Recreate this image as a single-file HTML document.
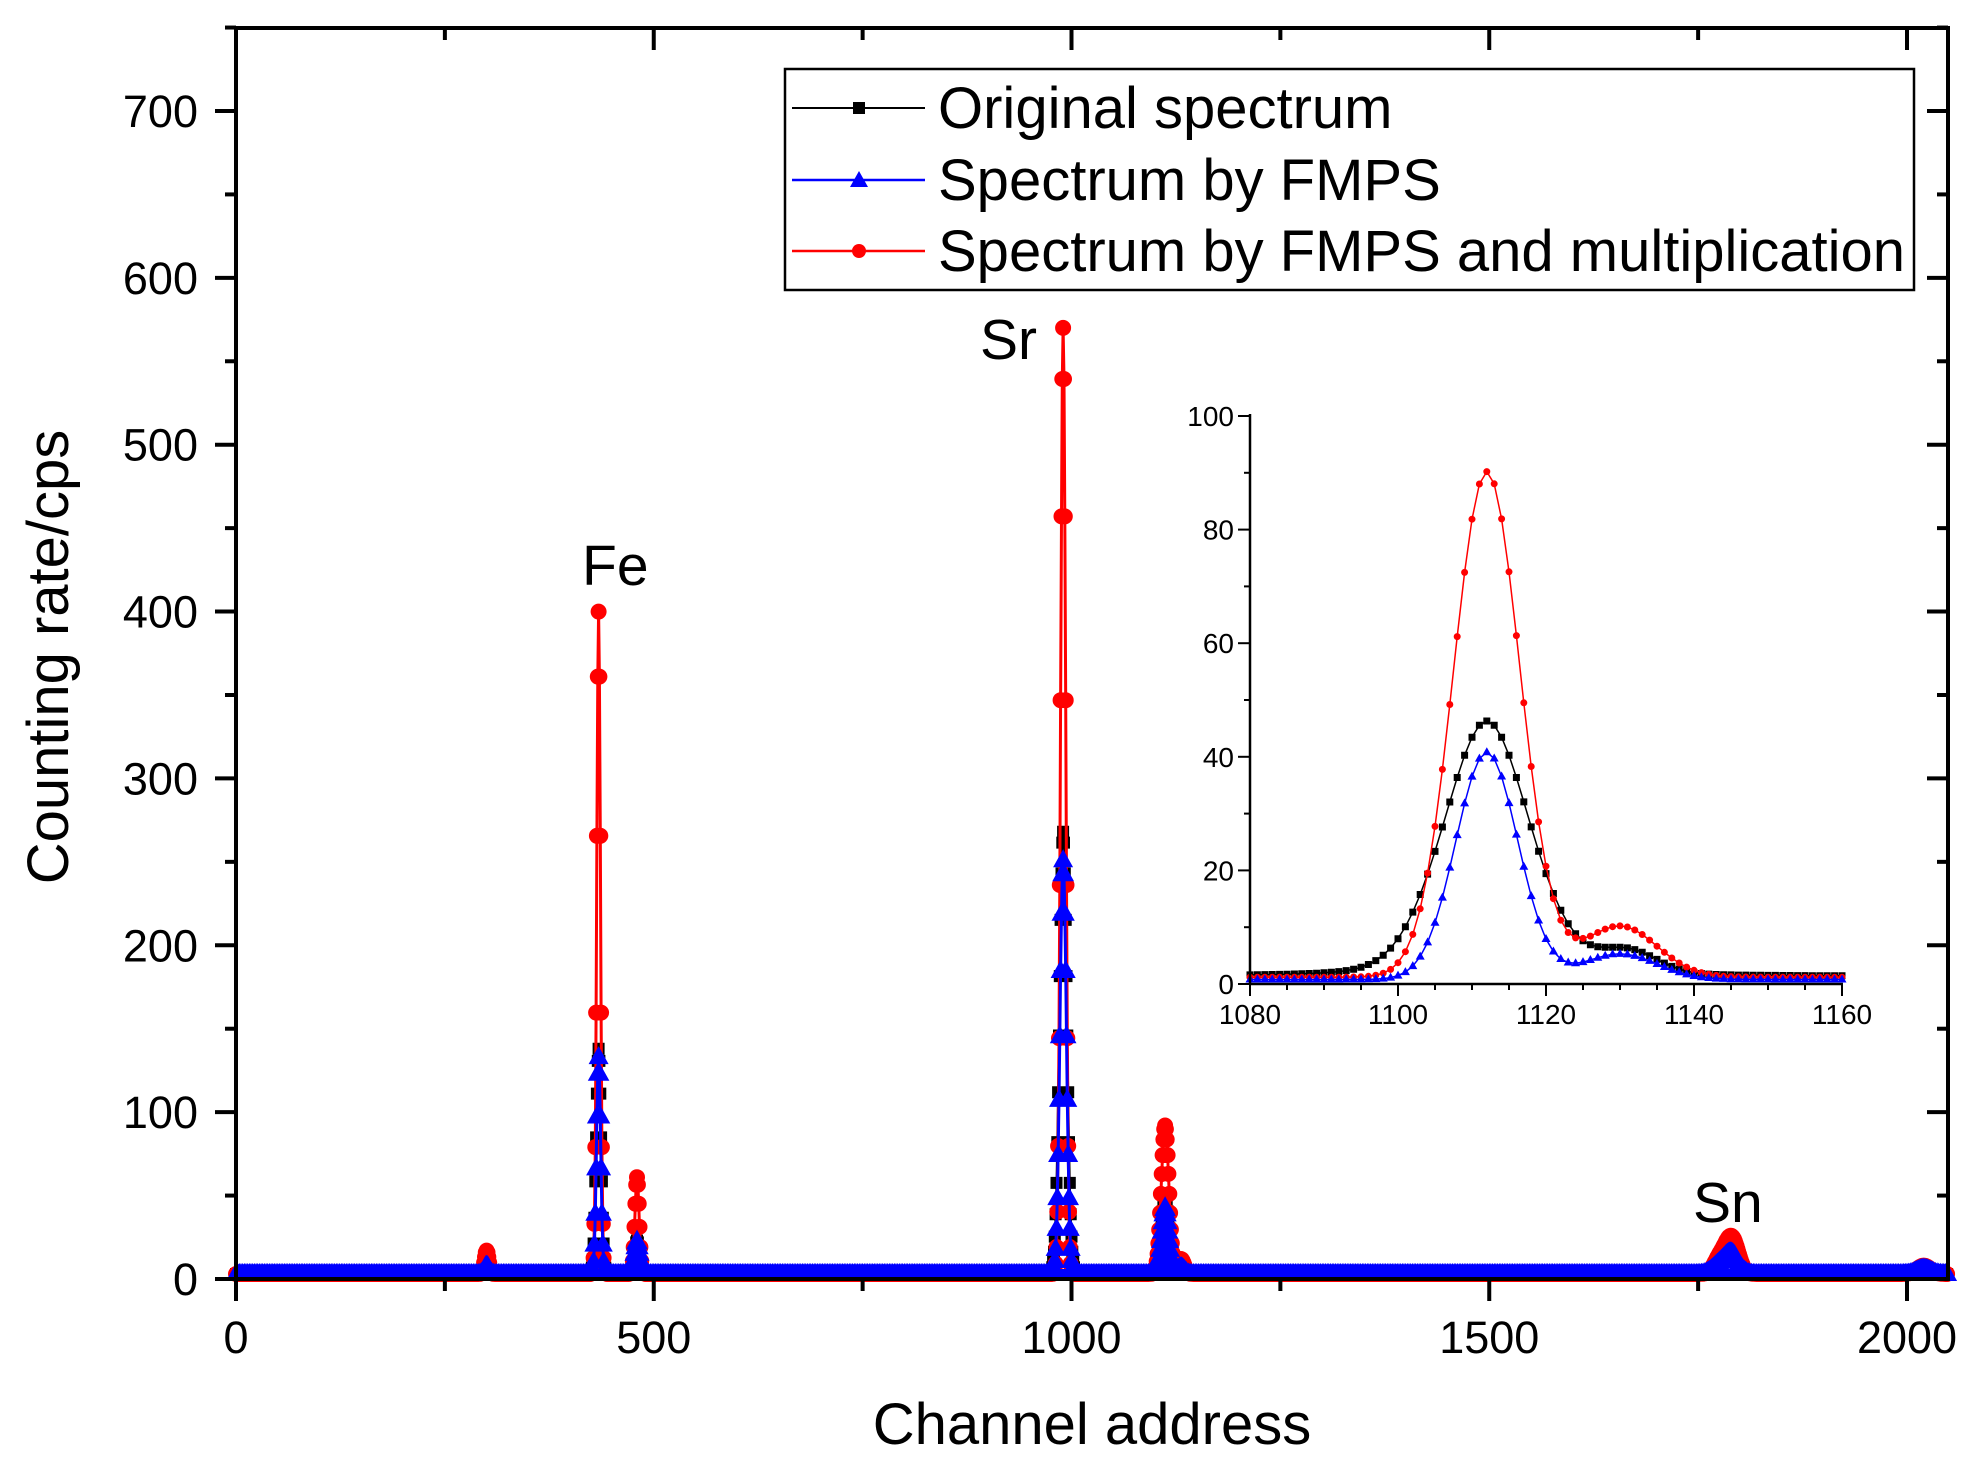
<!DOCTYPE html>
<html><head><meta charset="utf-8"><style>
html,body{margin:0;padding:0;background:#fff;}
svg{display:block;font-family:"Liberation Sans",Arial,sans-serif;}
</style></head><body>
<svg id="s" width="1978" height="1474" viewBox="0 0 1978 1474" xmlns="http://www.w3.org/2000/svg">
<rect width="1978" height="1474" fill="#fff"/>
<g id="data"></g>
<g id="inset"></g>
<g id="axes" stroke="#000" fill="none"></g>
<!-- legend -->
<rect x="785" y="69" width="1129" height="221" fill="#fff" stroke="#000" stroke-width="2.5"/>
<line x1="792" y1="108" x2="925" y2="108" stroke="#000" stroke-width="2"/>
<rect x="853" y="102" width="12" height="12" fill="#000"/>
<line x1="792" y1="180" x2="925" y2="180" stroke="#00f" stroke-width="2.5"/>
<polygon points="859,171 850,187 868,187" fill="#00f"/>
<line x1="792" y1="251" x2="925" y2="251" stroke="#f00" stroke-width="2.5"/>
<circle cx="859" cy="251" r="7" fill="#f00"/>
<g font-size="58" fill="#000">
<text x="938" y="128">Original spectrum</text>
<text x="938" y="200">Spectrum by FMPS</text>
<text x="938" y="271">Spectrum by FMPS and multiplication</text>
</g>
<g font-size="57" fill="#000">
<text x="582" y="585">Fe</text>
<text x="980" y="359">Sr</text>
<text x="1693" y="1222">Sn</text>
</g>
<g font-size="45" fill="#000" text-anchor="end" id="ylab"></g>
<g font-size="45" fill="#000" text-anchor="middle" id="xlab"></g>
<text x="1092" y="1444" font-size="58" text-anchor="middle">Channel address</text>
<text transform="translate(68,657) rotate(-90)" font-size="58" text-anchor="middle">Counting rate/cps</text>
</svg>
<script>
(function(){
var NS="http://www.w3.org/2000/svg";
function el(p,t,a){var e=document.createElementNS(NS,t);for(var k in a)e.setAttribute(k,a[k]);p.appendChild(e);return e;}
var X=function(c){return 236+c*0.8355;}, Y=function(v){return 1279-v*1.6686;};
function g(x,m,s){return Math.exp(-0.5*(x-m)*(x-m)/(s*s));}
function spec(c,k){ // k:0 black,1 blue,2 red
 var b=3;
 var P=[[300,[5,5,14],[3,3,2.5]],[434,[135,130,397],[3,2.5,2.2]],[480,[20,20,58],[3,3,2.5]],
 [990,[265,248,567],[4.5,3.8,3]],[1112,[45,40,89],[5,4.2,4.5]],[1131,[6,4,9],[5,4,4]],
 [1790,[10,12,22],[9,8,8]],[1775,[4,5,8],[8,8,7]],[2020,[2,3,5],[8,8,8]]];
 var v=b;for(var i=0;i<P.length;i++)v+=P[i][1][k]*g(c,P[i][0],P[i][2][k]);return v;}
var D=document.getElementById("data");
var cols=["#000","#00f","#f00"];
[0,2,1].forEach(function(k){
 var pts=[];for(var c=0;c<=2048;c++){pts.push(X(c).toFixed(1)+","+Y(spec(c,k)).toFixed(1));}
 el(D,"polyline",{points:pts.join(" "),fill:"none",stroke:cols[k],"stroke-width":k==0?2:3});
 var path="";
 for(var c=0;c<=2048;c++){var v=spec(c,k);var x=X(c),y=Y(v);
  if(v<4&&c%2)continue;
  if(k==0)path+="M"+(x-6).toFixed(1)+" "+(y-6).toFixed(1)+"h12v12h-12z";
  else if(k==1)path+="M"+x.toFixed(1)+" "+(y-11).toFixed(1)+"l10 18h-20z";
  else path+="M"+(x-8).toFixed(1)+" "+y.toFixed(1)+"a8 8 0 1 0 16 0a8 8 0 1 0 -16 0z";}
 el(D,"path",{d:path,fill:cols[k]});
});
el(D,"rect",{x:236,y:1269,width:1712,height:12,fill:"#00f"});
// inset
var I=document.getElementById("inset");
var IX=function(c){return 1250+(c-1080)*(592/80);}, IY=function(v){return 984-v*5.68;};
function ins(c,k){
 var d=c-1112,v;
 if(k==0){v=1.3+36*g(c,1112,6)+9/(1+(d/6)*(d/6))+4*g(c,1131,4);}
 else if(k==1){v=0.8+40*g(c,1112,4.2)+4.5*g(c,1130,5);}
 else {v=1.2+89*g(c,1112,4.5)+9*g(c,1130,5);}
 return v;}
[0,2,1].forEach(function(k){
 var pts=[],path="";
 for(var c=1080;c<=1160;c++){var x=IX(c),y=IY(ins(c,k));pts.push(x.toFixed(1)+","+y.toFixed(1));
  if(k==0)path+="M"+(x-3.5).toFixed(1)+" "+(y-3.5).toFixed(1)+"h7v7h-7z";
  else if(k==1)path+="M"+x.toFixed(1)+" "+(y-5).toFixed(1)+"l4.5 8h-9z";
  else path+="M"+(x-3.5).toFixed(1)+" "+y.toFixed(1)+"a3.5 3.5 0 1 0 7 0a3.5 3.5 0 1 0 -7 0z";}
 el(I,"polyline",{points:pts.join(" "),fill:"none",stroke:cols[k],"stroke-width":1.5});
 el(I,"path",{d:path,fill:cols[k]});
});
el(I,"line",{x1:1250,y1:414,x2:1250,y2:985,stroke:"#000","stroke-width":2.5});
el(I,"line",{x1:1249,y1:984,x2:1843,y2:984,stroke:"#000","stroke-width":2.5});
for(var v=0;v<=100;v+=10){var y=IY(v);el(I,"line",{x1:v%20?1244:1238,y1:y,x2:1250,y2:y,stroke:"#000","stroke-width":2});
 if(v%20==0){var t=el(I,"text",{x:1234,y:y+10,"font-size":28,"text-anchor":"end"});t.textContent=v;}}
for(var c=1080;c<=1160;c+=5){var x=IX(c);el(I,"line",{x1:x,y1:984,x2:x,y2:c%20?990:996,stroke:"#000","stroke-width":2});
 if(c%20==0){var t=el(I,"text",{x:x,y:1024,"font-size":28,"text-anchor":"middle"});t.textContent=c;}}
// axes
var A=document.getElementById("axes");
el(A,"rect",{x:236,y:28,width:1712,height:1251,"stroke-width":4});
for(var v=0;v<=750;v+=50){var y=Y(v);var L=v%100?11:21;
 el(A,"line",{x1:236-L,y1:y,x2:236,y2:y,"stroke-width":4});
 el(A,"line",{x1:1948,y1:y,x2:1948-L,y2:y,"stroke-width":4});
 if(v%100==0){var t=el(document.getElementById("ylab"),"text",{x:198,y:y+16});t.textContent=v;}}
for(var c=0;c<=2050;c+=250){var x=X(c);var L=c%500?12:22;
 el(A,"line",{x1:x,y1:1279,x2:x,y2:1279+L,"stroke-width":4});
 el(A,"line",{x1:x,y1:28,x2:x,y2:28+L,"stroke-width":4});
 if(c%500==0){var t=el(document.getElementById("xlab"),"text",{x:x,y:1353});t.textContent=c;}}
})();
</script>
</body></html>
